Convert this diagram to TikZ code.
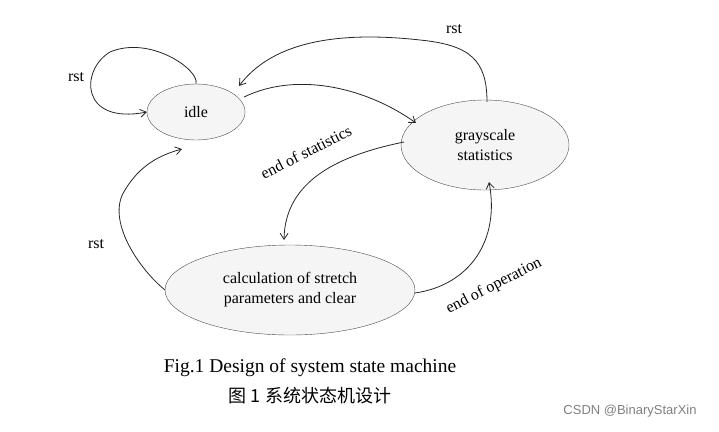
\documentclass[tikz,border=0pt]{standalone}
\usepackage{fontspec}
\setmainfont{Liberation Serif}
\newfontfamily\cjk{Noto Sans CJK SC}
\newfontfamily\wm{Liberation Sans}
\usetikzlibrary{arrows.meta,shapes.geometric}
\begin{document}
\begin{tikzpicture}[x=1pt,y=-1pt,
  st/.style={draw=black!70,fill=black!4,ellipse,inner sep=0pt,font=\fontsize{16}{20}\selectfont,align=center},
  ed/.style={draw=black!85,line width=0.8pt,-{Straight Barb[length=6pt,width=8pt]}},
  lb/.style={font=\fontsize{16}{18}\selectfont}]
\useasboundingbox (0,0) rectangle (719,431);
\node[st,minimum width=98,minimum height=56] (idle) at (196,112) {idle};
\node[st,minimum width=168,minimum height=90] (gs) at (485,145) {grayscale\\statistics};
\node[st,minimum width=250,minimum height=90] (calc) at (290,290) {calculation of stretch\\parameters and clear};
\draw[ed] (idle.north) .. controls (200,70) and (150,35) .. (110,52) .. controls (80,70) and (80,125) .. (idle.west);
\node[lb] (r1) at (76,77) {rst};
\draw[ed] (244,97) .. controls (300,70) and (370,90) .. (416,123);
\draw[ed] (487,102) .. controls (487,60) and (470,45) .. (420,40) .. controls (330,30) and (270,45) .. (239,86);
\node[lb] (r2) at (454,29) {rst};
\draw[ed] (404,142) .. controls (340,155) and (285,180) .. (284,240);
\node[lb,rotate=27] (l1) at (306,152) {end of statistics};
\draw[ed] (415,293) .. controls (470,285) and (500,240) .. (489,182);
\node[lb,rotate=27] (l2) at (494,286) {end of operation};
\draw[ed] (165,290) .. controls (140,270) and (105,220) .. (125,190) .. controls (140,165) and (160,155) .. (182,149);
\node[lb] (r3) at (96,244) {rst};
\node[font=\fontsize{19.5}{22}\selectfont] (cap) at (310,368) {Fig.1 Design of system state machine};
\node[font=\cjk\fontsize{18}{21}\selectfont] (cap2) at (310,396) {图 1 系统状态机设计};
\node[font=\wm\fontsize{13}{15}\selectfont,text=black!50] (w) at (630,411) {CSDN @BinaryStarXin};
\end{tikzpicture}
\end{document}
